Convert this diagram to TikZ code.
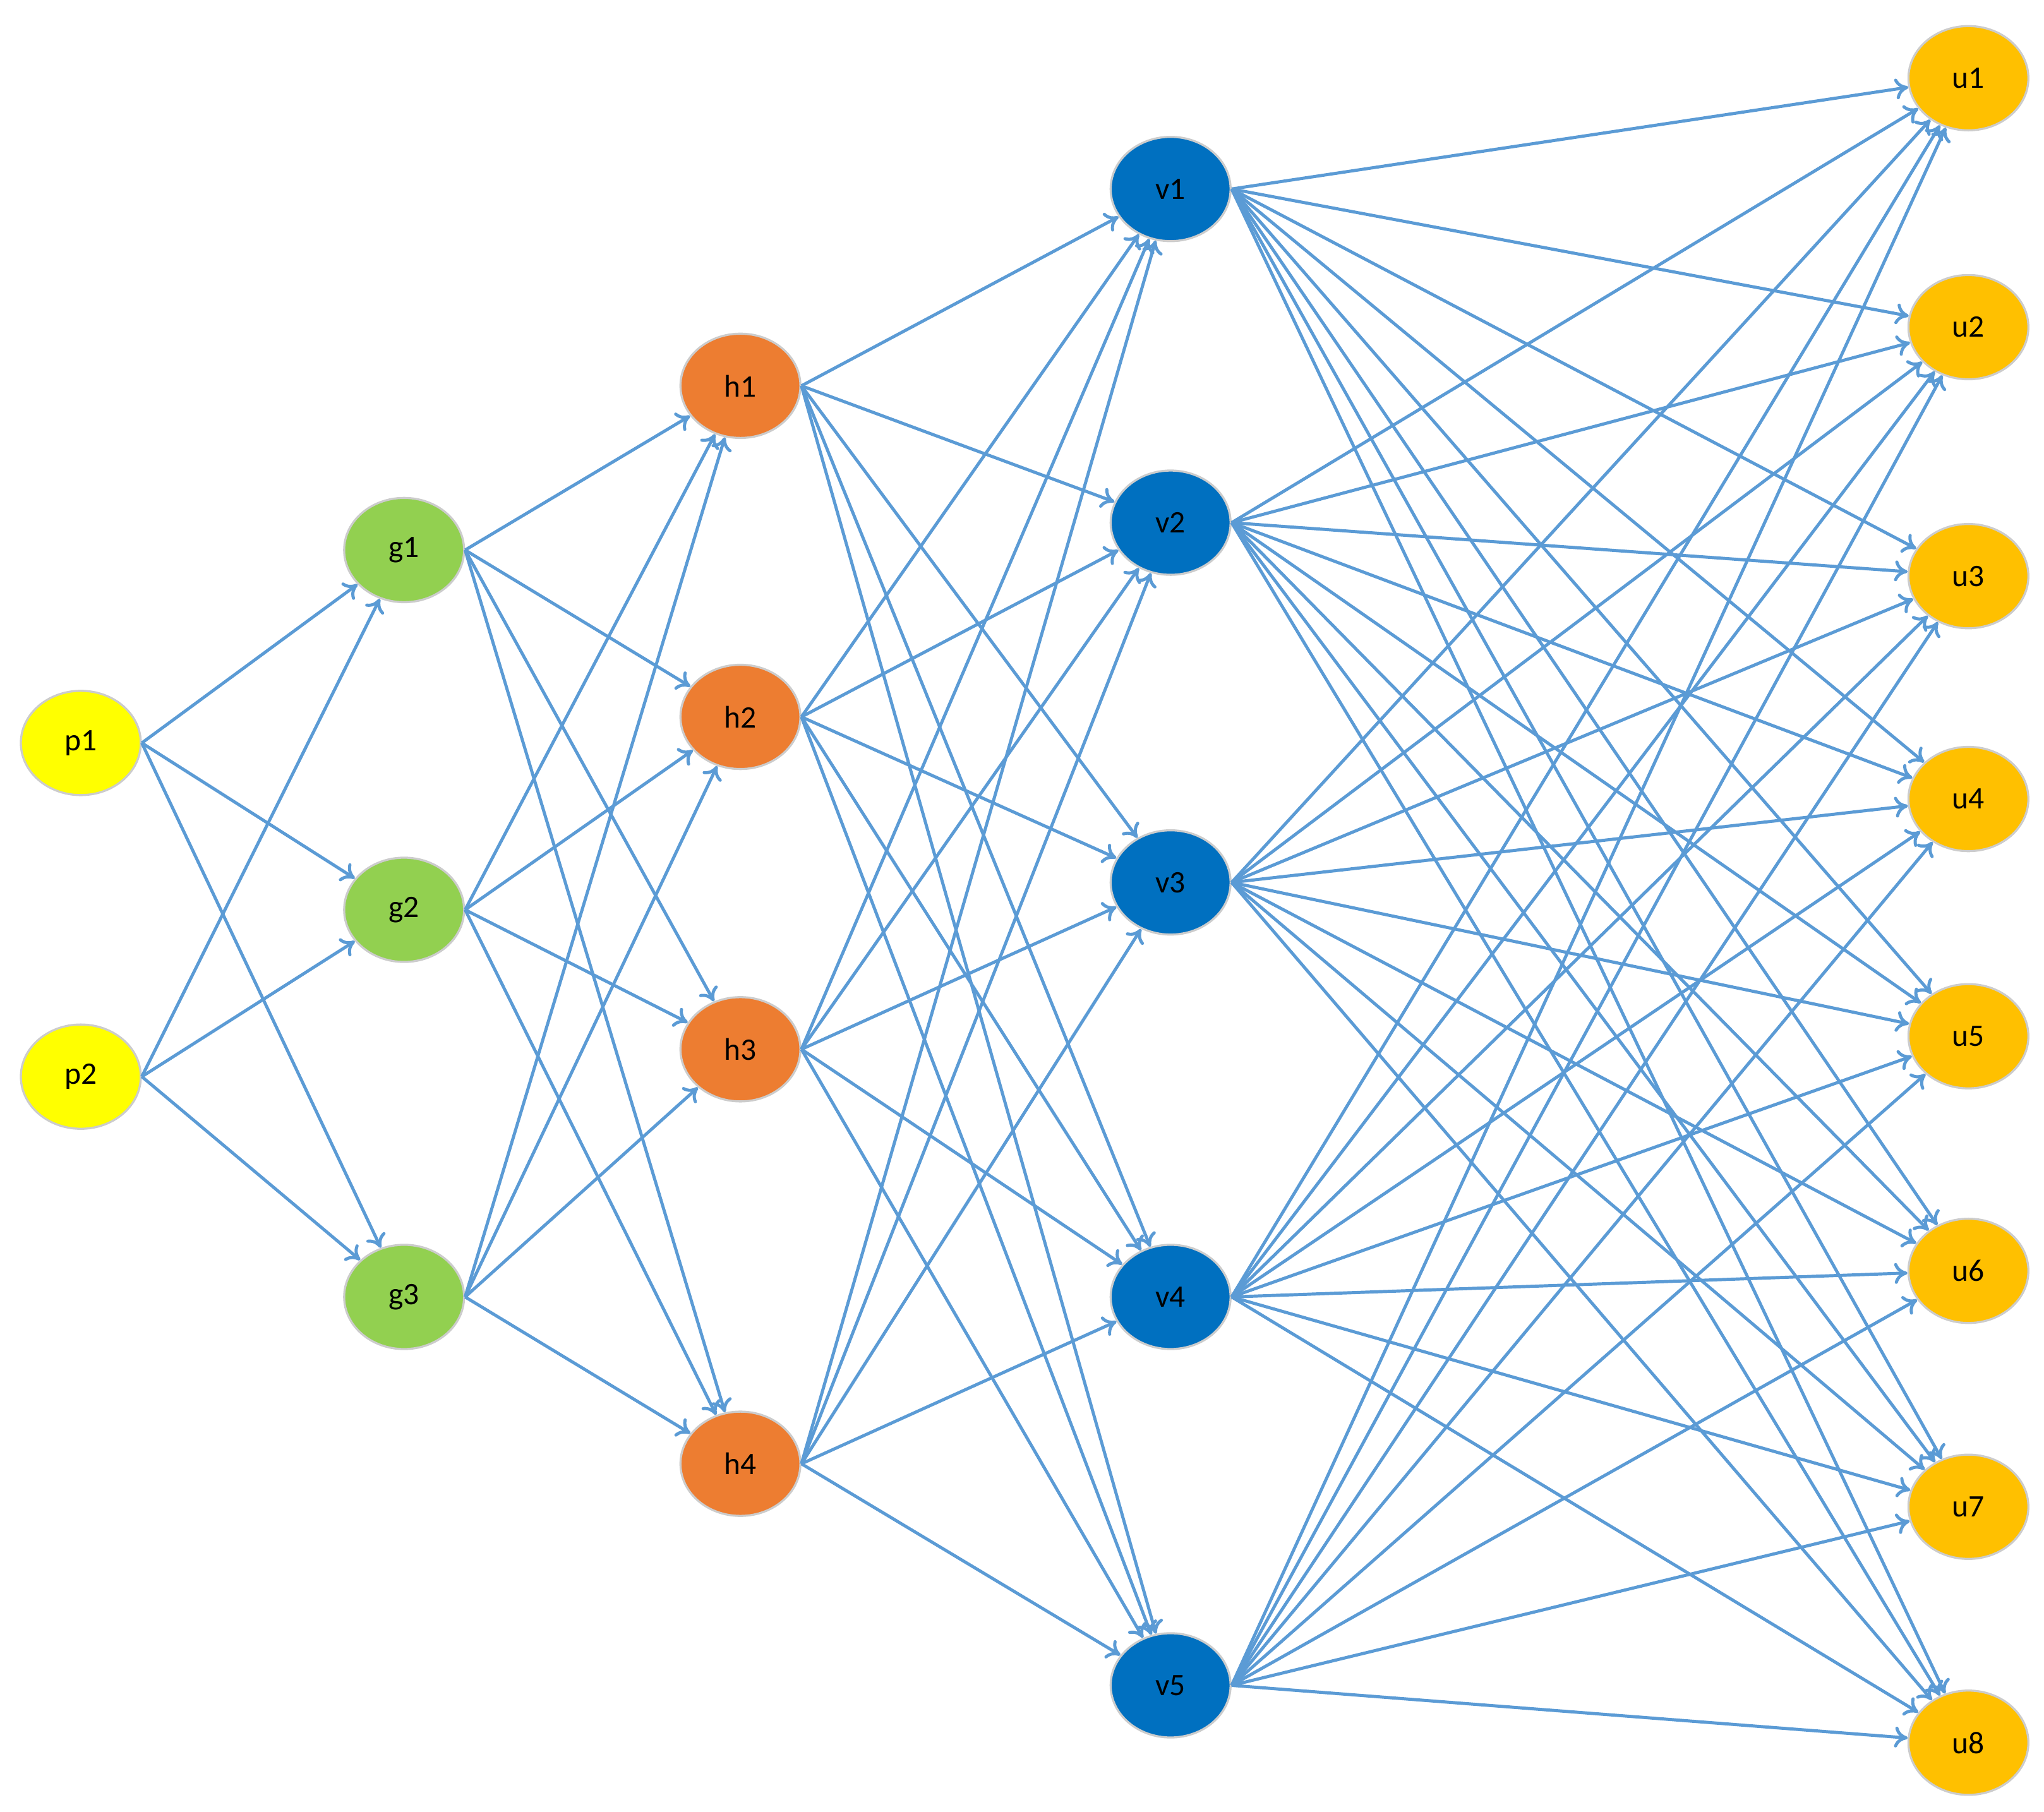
\documentclass[tikz,border=0pt]{standalone}
\usepackage{fontspec}
\setmainfont{Carlito}
\usetikzlibrary{arrows.meta,shapes.geometric}
\begin{document}
\begin{tikzpicture}[x=0.5pt,y=-0.5pt,
  nd/.style={ellipse,draw=black!20,line width=0.8pt,minimum width=46pt,minimum height=40pt,inner sep=0pt,font=\fontsize{12}{14}\selectfont},
  ed/.style={draw=conn,line width=1.2pt,-{To[length=5pt,width=8pt]}}]
\definecolor{conn}{HTML}{5B9BD5}
\useasboundingbox (0,0) rectangle (1568,1390);
\node[nd,fill={rgb,255:red,255;green,255;blue,0}] (p1) at (62,570) {p1};
\node[nd,fill={rgb,255:red,255;green,255;blue,0}] (p2) at (62,826) {p2};
\foreach \n/\y in {g1/422,g2/698,g3/995}
  \node[nd,fill={rgb,255:red,146;green,208;blue,80}] (\n) at (310,\y) {\n};
\foreach \n/\y in {h1/296,h2/550,h3/805,h4/1123}
  \node[nd,fill={rgb,255:red,237;green,125;blue,49}] (\n) at (568,\y) {\n};
\foreach \n/\y in {v1/145,v2/401,v3/677,v4/995,v5/1293}
  \node[nd,fill={rgb,255:red,0;green,112;blue,192}] (\n) at (898,\y) {\n};
\foreach \n/\y in {u1/60,u2/251,u3/442,u4/613,u5/795,u6/975,u7/1156,u8/1337}
  \node[nd,fill={rgb,255:red,255;green,192;blue,0}] (\n) at (1510,\y) {\n};
\foreach \s in {p1,p2}\foreach \t in {g1,g2,g3}\draw[ed] (\s.east) -- (\t);
\foreach \s in {g1,g2,g3}\foreach \t in {h1,h2,h3,h4}\draw[ed] (\s.east) -- (\t);
\foreach \s in {h1,h2,h3,h4}\foreach \t in {v1,v2,v3,v4,v5}\draw[ed] (\s.east) -- (\t);
\foreach \s in {v1,v2,v3,v4,v5}\foreach \t in {u1,u2,u3,u4,u5,u6,u7,u8}\draw[ed] (\s.east) -- (\t);
\end{tikzpicture}
\end{document}
